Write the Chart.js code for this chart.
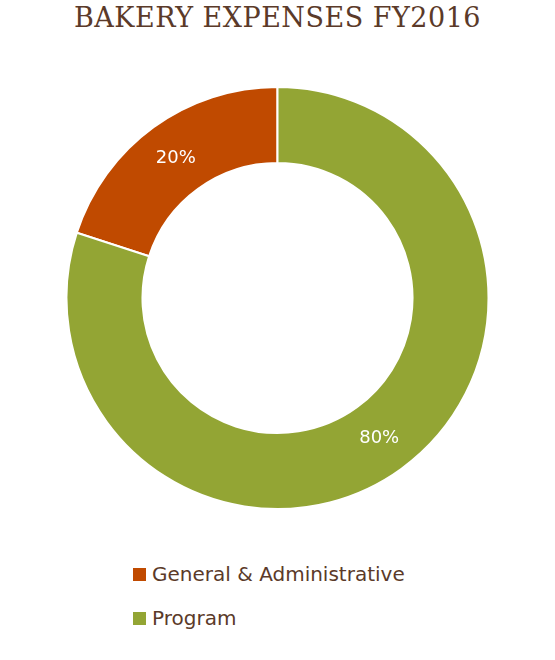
<!DOCTYPE html>
<html lang="en">
<head>
<meta charset="UTF-8">
<title>Bakery Expenses FY2016</title>
<script src="https://cdn.jsdelivr.net/npm/chart.js@4.4.0/dist/chart.umd.min.js"></script>
<style>
  body { margin: 0; width: 555px; height: 660px; background: #fff; font-family: "DejaVu Sans", sans-serif; position: relative; overflow: hidden; }
  h1 { position: absolute; top: 0; left: 0; width: 555px; margin: 0; text-align: center; font-family: "DejaVu Serif", serif; font-weight: normal; font-size: 27px; color: #5b3a29; line-height: 36px; letter-spacing: 0.5px; }
  #wrap { position: absolute; top: 86px; left: 0; width: 555px; height: 424px; }
  #legend { position: absolute; top: 552px; left: 133px; color: #5b3a29; font-size: 20px; }
  .item { height: 44px; display: flex; align-items: center; }
  .box { width: 13px; height: 13px; margin-right: 6px; }
</style>
</head>
<body>
<h1>BAKERY EXPENSES FY2016</h1>
<div id="wrap"><canvas id="chart"></canvas></div>
<div id="legend"></div>
<script>
const labels = ['General & Administrative', 'Program'];
const values = [20, 80];
const colors = ['#c04a00', '#93a534'];

const pctLabels = {
  id: 'pctLabels',
  afterDatasetsDraw(chart) {
    const ctx = chart.ctx;
    const meta = chart.getDatasetMeta(0);
    ctx.save();
    ctx.fillStyle = '#fff';
    ctx.font = '18px "DejaVu Sans", sans-serif';
    ctx.textAlign = 'center';
    ctx.textBaseline = 'middle';
    meta.data.forEach((arc, i) => {
      const p = arc.tooltipPosition();
      ctx.fillText(values[i] + '%', p.x, p.y);
    });
    ctx.restore();
  }
};

new Chart(document.getElementById('chart'), {
  type: 'doughnut',
  data: {
    labels: labels,
    datasets: [{ data: values, backgroundColor: colors, borderColor: '#fff', borderWidth: 2 }]
  },
  options: {
    responsive: true,
    maintainAspectRatio: false,
    animation: false,
    rotation: -72,
    cutout: '64%',
    plugins: { legend: { display: false }, tooltip: { enabled: false } }
  },
  plugins: [pctLabels]
});

const legend = document.getElementById('legend');
labels.forEach((l, i) => {
  legend.innerHTML += '<div class="item"><span class="box" style="background:' + colors[i] + '"></span>' + l.replace('&', '&amp;') + '</div>';
});
</script>
</body>
</html>
